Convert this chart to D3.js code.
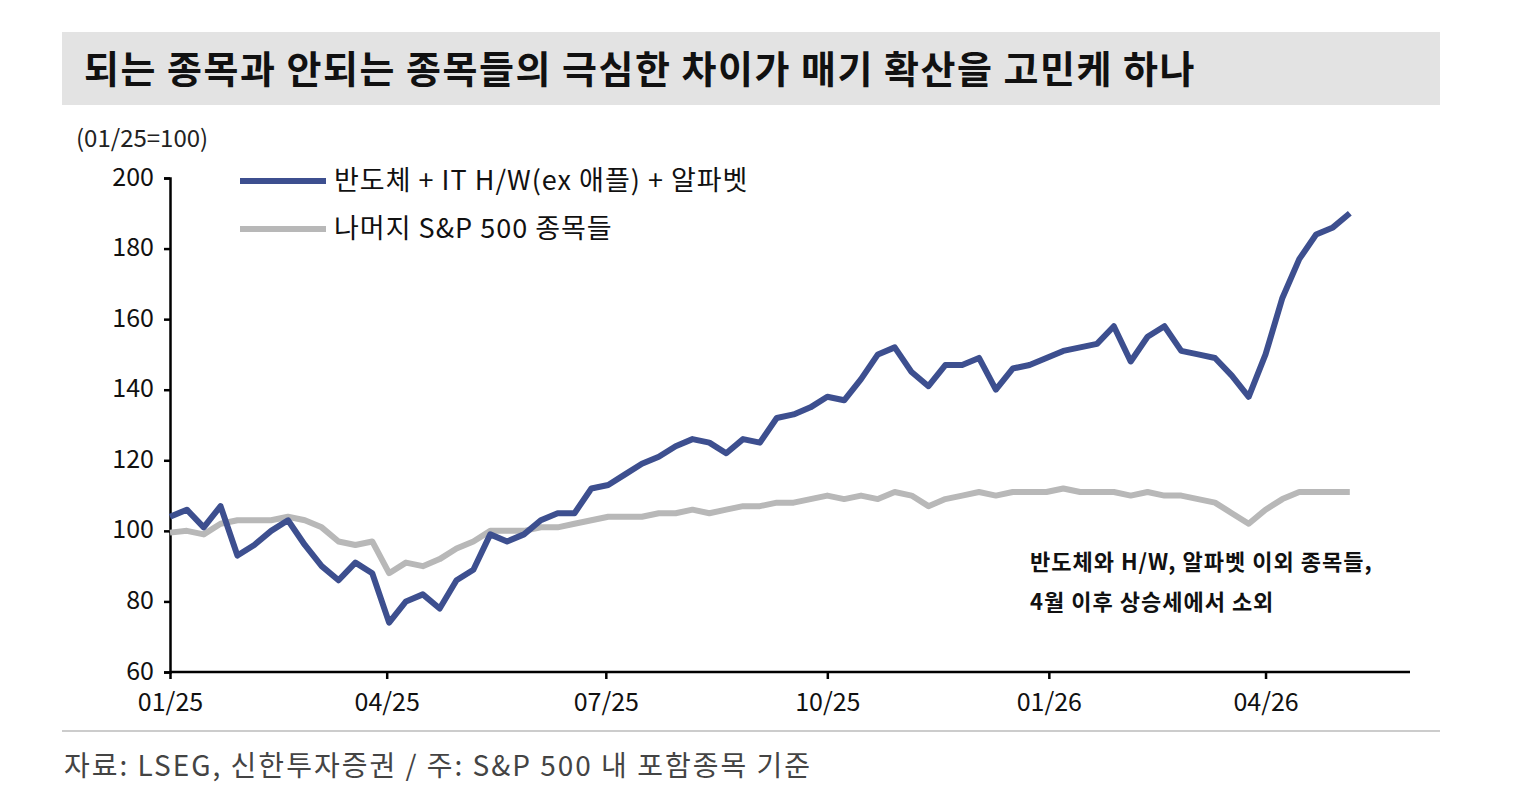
<!DOCTYPE html>
<html><head><meta charset="utf-8">
<script src="https://cdn.jsdelivr.net/npm/d3@7"></script>
<style>body{margin:0;background:#fff;font-family:"Noto Sans CJK KR","Noto Sans",sans-serif;}</style>
</head><body>
<svg id="c" width="1515" height="800"></svg>
<script>
const startDate = "2025-01-01";
const seriesNames = ["반도체 + IT H/W(ex 애플) + 알파벳", "나머지 S&P 500 종목들"];
const semiHW = [104,106,101,107,93,96,100,103,96,90,86,91,88,74,80,82,78,86,89,99,97,99,103,105,105,112,113,116,119,121,124,126,125,122,126,125,132,133,135,138,137,143,150,152,145,141,147,147,149,140,146,147,149,151,152,153,158,148,155,158,151,150,149,144,138,150,166,177,184,186,190];
const restSP = [99.5,100,99,102,103,103,103,104,103,101,97,96,97,88,91,90,92,95,97,100,100,100,101,101,102,103,104,104,104,105,105,106,105,106,107,107,108,108,109,110,109,110,109,111,110,107,109,110,111,110,111,111,111,112,111,111,111,110,111,110,110,109,108,105,102,106,109,111,111,111,111];
const yTicks = [60,80,100,120,140,160,180,200];
const xTickDates = ["2025-01-01","2025-04-01","2025-07-01","2025-10-01","2026-01-01","2026-04-01"];

const svg = d3.select("#c");
const parse = d3.timeParse("%Y-%m-%d");
const t0 = parse(startDate);
const dates = semiHW.map((_, i) => d3.timeDay.offset(t0, 7 * i));

const x = d3.scaleTime().domain([parse("2025-01-01"), parse("2026-05-31")]).range([170, 1410]);
const y = d3.scaleLinear().domain([60, 200]).range([672, 178]);

svg.append("rect").attr("x", 62).attr("y", 32).attr("width", 1378).attr("height", 73).attr("fill", "#e3e3e3");
svg.append("text").attr("x", 84).attr("y", 83).attr("font-size", 38).attr("letter-spacing", 1.5).attr("font-weight", "bold").attr("fill", "#111")
  .text("되는 종목과 안되는 종목들의 극심한 차이가 매기 확산을 고민케 하나");

svg.append("text").attr("x", 76).attr("y", 147).attr("font-size", 24).attr("fill", "#222").text("(01/25=100)");

const yAxis = svg.append("g").attr("transform", "translate(170,0)")
  .call(d3.axisLeft(y).tickValues(yTicks).tickSize(6).tickPadding(10));
const xAxis = svg.append("g").attr("transform", "translate(0,672)")
  .call(d3.axisBottom(x).tickValues(xTickDates.map(parse)).tickFormat(d3.timeFormat("%m/%y")).tickSize(7).tickPadding(14));
[yAxis, xAxis].forEach(g => {
  g.selectAll("path,line").attr("stroke", "#000").attr("stroke-width", 2.5);
  g.selectAll("text").attr("font-size", 25).attr("fill", "#111").attr("font-family", "'Noto Sans CJK KR',sans-serif");
});
yAxis.selectAll("text").attr("dy", "0.28em");
xAxis.select(".domain").attr("d", "M170,0H1410");

const line = data => d3.line().x((d, i) => x(dates[i])).y(d => y(d))(data);
svg.append("path").attr("d", line(restSP)).attr("fill", "none").attr("stroke", "#b8b8b8").attr("stroke-width", 6).attr("stroke-linejoin", "round");
svg.append("path").attr("d", line(semiHW)).attr("fill", "none").attr("stroke", "#3d4f8f").attr("stroke-width", 6).attr("stroke-linejoin", "round");

const legColors = ["#3d4f8f", "#b8b8b8"];
seriesNames.forEach((n, i) => {
  const ly = 181 + i * 48;
  svg.append("line").attr("x1", 240).attr("x2", 326).attr("y1", ly).attr("y2", ly).attr("stroke", legColors[i]).attr("stroke-width", 6);
  svg.append("text").attr("x", 334).attr("y", ly + 9).attr("font-size", 27).attr("letter-spacing", 1).attr("fill", "#111").text(n);
});

svg.append("text").attr("x", 1030).attr("y", 570).attr("font-size", 22).attr("letter-spacing", 1).attr("font-weight", "bold").attr("fill", "#111").text("반도체와 H/W, 알파벳 이외 종목들,");
svg.append("text").attr("x", 1030).attr("y", 610).attr("font-size", 22).attr("letter-spacing", 1).attr("font-weight", "bold").attr("fill", "#111").text("4월 이후 상승세에서 소외");

svg.append("line").attr("x1", 62).attr("x2", 1440).attr("y1", 731).attr("y2", 731).attr("stroke", "#bbb").attr("stroke-width", 1.5);
svg.append("text").attr("x", 64).attr("y", 776).attr("font-size", 28).attr("letter-spacing", 2).attr("fill", "#444").text("자료: LSEG, 신한투자증권 / 주: S&P 500 내 포함종목 기준");
</script>
</body></html>
